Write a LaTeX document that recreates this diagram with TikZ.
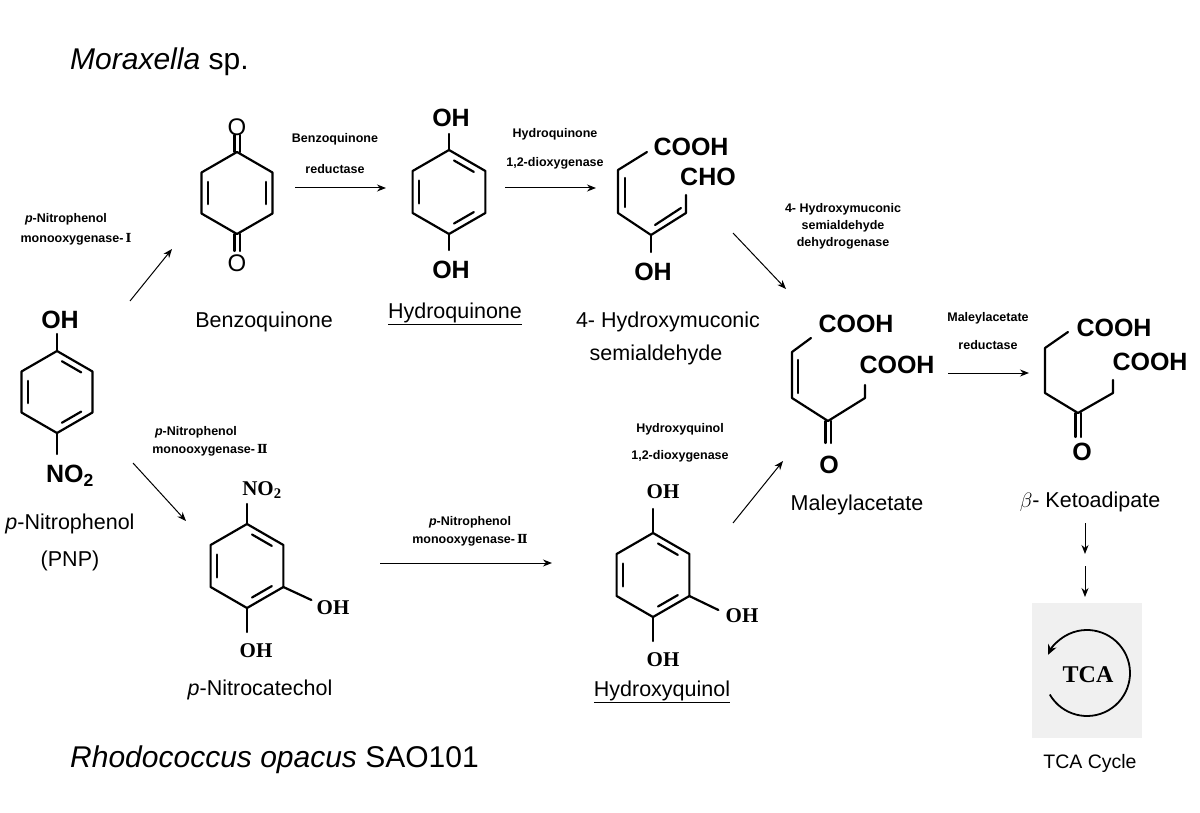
\documentclass[tikz,border=0pt]{standalone}
\usepackage{fontspec}
\setmainfont{Liberation Sans}
\newfontfamily\serifchem{Liberation Serif}
\newfontfamily\dvs{DejaVu Serif}
\usetikzlibrary{calc,arrows.meta}
\tikzset{
  bond/.style={line width=2.2pt,line join=round,line cap=round},
  rxn/.style={line width=1pt,-{Stealth[length=9pt,width=7pt]}},
  chem/.style={font=\bfseries\fontsize{25}{27}\selectfont,inner sep=0pt},
  schem/.style={font=\serifchem\bfseries\fontsize{21}{23}\selectfont,inner sep=0pt},
  lab/.style={font=\fontsize{21.5}{23}\selectfont,inner sep=0pt},
  enz/.style={font=\bfseries\fontsize{12.5}{14}\selectfont,inner sep=0pt},
  org/.style={font=\itshape\fontsize{30}{32}\selectfont,inner sep=0pt,anchor=west},
}
\newcommand\hexring[3]{%
  \draw[bond] ($(#1)+(-90:#2)$) -- ($(#1)+(-30:#2)$) -- ($(#1)+(30:#2)$) -- ($(#1)+(90:#2)$) -- ($(#1)+(150:#2)$) -- ($(#1)+(210:#2)$) -- cycle;
  \foreach \a in {#3} \draw[bond] ($(#1)+(\a+9:0.76*#2)$) -- ($(#1)+(\a+51:0.76*#2)$);}
\newcommand\dbl[2]{\draw[bond] ($(#1)+(-2.6,0)$) -- ($(#2)+(-2.6,0)$); \draw[bond] ($(#1)+(2.6,0)$) -- ($(#2)+(2.6,0)$);}
\begin{document}
\begin{tikzpicture}[x=1pt,y=-1pt]
\useasboundingbox (0,0) rectangle (1200,813);
\fill[white] (0,0) rectangle (1200,813);
% organisms
\node[org] (mor) at (70,62) {Moraxella \upshape sp.};
\node[org] (rho) at (70,760) {Rhodococcus opacus \upshape SAO101};

% PNP
\coordinate (pnp) at (57,392);
\hexring{pnp}{41}{-90,150,30}
\draw[bond] ($(pnp)+(0,-41)$) -- ($(pnp)+(0,-58)$);
\draw[bond] ($(pnp)+(0,41)$) -- ($(pnp)+(0,62)$);
\node[chem] (pnpoh) at (60,320) {OH};
\node[chem] (pnpno) at (70,476) {NO\textsubscript{2}};
\node[lab] (pnpl1) at (70,524) {\textit{p}-Nitrophenol};
\node[lab] (pnpl2) at (70,561) {(PNP)};

% Benzoquinone
\coordinate (bq) at (237,193);
\hexring{bq}{41}{-30,150}
\dbl{$(bq)+(0,-41)$}{$(bq)+(0,-58)$}
\dbl{$(bq)+(0,41)$}{$(bq)+(0,58)$}
\node[chem,font=\fontsize{24}{26}\selectfont] (bqo1) at (237,127) {O};
\node[chem,font=\fontsize{24}{26}\selectfont] (bqo2) at (237,263) {O};
\node[lab] (bql) at (264,322) {Benzoquinone};

% Hydroquinone
\coordinate (hq) at (449,192);
\hexring{hq}{42}{-90,150,30}
\draw[bond] ($(hq)+(0,-42)$) -- ($(hq)+(0,-58)$);
\draw[bond] ($(hq)+(0,42)$) -- ($(hq)+(0,58)$);
\node[chem] (hqoh1) at (451,118) {OH};
\node[chem] (hqoh2) at (451,270) {OH};
\node[lab] (hql) at (455,314) {\underline{Hydroquinone}};

% 4-hydroxymuconic semialdehyde
\coordinate (m1) at (647,152); \coordinate (m2) at (618,170); \coordinate (m3) at (618,213);
\coordinate (m4) at (651,235); \coordinate (m5) at (686,213); \coordinate (m6) at (686,195);
\draw[bond] (m1) -- (m2) -- (m3) -- (m4) -- (m5) -- (m6);
\draw[bond] (625,178) -- (625,207);
\draw[bond] (655,225) -- (681,208);
\draw[bond] (m4) -- (651,252);
\node[chem] (hmcooh) at (691,147) {COOH};
\node[chem] (hmcho) at (708,177) {CHO};
\node[chem] (hmoh) at (653,272) {OH};
\node[lab] (hml1) at (668,322) {4- Hydroxymuconic};
\node[lab] (hml2) at (656,355) {semialdehyde};

% Maleylacetate
\coordinate (a1) at (811,338); \coordinate (a2) at (792,352); \coordinate (a3) at (792,398);
\coordinate (a4) at (828,421); \coordinate (a5) at (865,398); \coordinate (a6) at (865,385);
\draw[bond] (a1) -- (a2) -- (a3) -- (a4) -- (a5) -- (a6);
\draw[bond] (798,360) -- (798,393);
\dbl{a4}{$(a4)+(0,22)$}
\node[chem] (macooh1) at (856,324) {COOH};
\node[chem] (macooh2) at (897,365) {COOH};
\node[chem] (mao) at (829,465) {O};
\node[lab] (mal) at (857,505) {Maleylacetate};

% beta-ketoadipate
\coordinate (k1) at (1068,332); \coordinate (k2) at (1045,348); \coordinate (k3) at (1045,393);
\coordinate (k4) at (1078,413); \coordinate (k5) at (1113,393); \coordinate (k6) at (1113,380);
\draw[bond] (k1) -- (k2) -- (k3) -- (k4) -- (k5) -- (k6);
\dbl{k4}{$(k4)+(0,24)$}
\node[chem] (kacooh1) at (1114,328) {COOH};
\node[chem] (kacooh2) at (1150,362) {COOH};
\node[chem] (kao) at (1082,452) {O};
\node[lab] (kal) at (1090,502) {$\beta$- Ketoadipate};

% p-nitrocatechol
\coordinate (nc) at (247,566);
\hexring{nc}{42}{-90,150,30}
\draw[bond] ($(nc)+(0,-42)$) -- ($(nc)+(0,-62)$);
\draw[bond] ($(nc)+(30:42)$) -- ++(28,13);
\draw[bond] ($(nc)+(0,42)$) -- ($(nc)+(0,66)$);
\node[schem] (ncno) at (262,490) {NO\textsubscript{2}};
\node[schem] (ncoh1) at (333,608) {OH};
\node[schem] (ncoh2) at (256,651) {OH};
\node[lab] (ncl) at (260,690) {\textit{p}-Nitrocatechol};

% hydroxyquinol
\coordinate (hx) at (653,575);
\hexring{hx}{42}{-90,150,30}
\draw[bond] ($(hx)+(0,-42)$) -- ($(hx)+(0,-66)$);
\draw[bond] ($(hx)+(30:42)$) -- ++(29,14);
\draw[bond] ($(hx)+(0,42)$) -- ($(hx)+(0,66)$);
\node[schem] (hxoh1) at (663,492) {OH};
\node[schem] (hxoh2) at (742,616) {OH};
\node[schem] (hxoh3) at (663,660) {OH};
\node[lab] (hxl) at (662,692) {\underline{Hydroxyquinol}};

% TCA
\fill[gray!12] (1032,603) rectangle (1142,738);
\coordinate (tca) at (1087,673);
\draw[line width=1.8pt,-{Stealth[length=10pt,width=9pt]}] ($(tca)+(150:43)$) arc[start angle=150,end angle=-155,radius=43];
\node[font=\serifchem\bfseries\fontsize{24}{26}\selectfont,inner sep=0pt] (tcat) at (1088,675) {TCA};
\node[font=\fontsize{19.5}{21}\selectfont,inner sep=0pt] (tcal) at (1090,763) {TCA Cycle};

% arrow endpoints
\coordinate (r1a) at (130,301); \coordinate (r1b) at (172,249);
\coordinate (r2a) at (295,188); \coordinate (r2b) at (386,188);
\coordinate (r3a) at (505,188); \coordinate (r3b) at (596,188);
\coordinate (r4a) at (733,233); \coordinate (r4b) at (786,289);
\coordinate (r5a) at (948,373); \coordinate (r5b) at (1029,373);
\coordinate (r6a) at (133,463); \coordinate (r6b) at (186,521);
\coordinate (r7a) at (380,563); \coordinate (r7b) at (552,563);
\coordinate (r8a) at (733,523); \coordinate (r8b) at (783,461);
\coordinate (r9a) at (1085,523); \coordinate (r9b) at (1085,554);
\coordinate (r10a) at (1085,566); \coordinate (r10b) at (1085,597);
\foreach \i in {1,...,10} \draw[rxn] (r\i a) -- (r\i b);

% enzyme labels
\node[enz] (e1a) at (66,219) {\textit{p}-Nitrophenol};
\node[enz] (e1b) at (76,239) {monooxygenase-\,{\dvs Ⅰ}};
\node[enz] (e2a) at (335,139) {Benzoquinone};
\node[enz] (e2b) at (335,169) {reductase};
\node[enz] (e3a) at (555,134) {Hydroquinone};
\node[enz] (e3b) at (555,163) {1,2-dioxygenase};
\node[enz] (e4a) at (843,209) {4- Hydroxymuconic};
\node[enz] (e4b) at (843,226) {semialdehyde};
\node[enz] (e4c) at (843,243) {dehydrogenase};
\node[enz] (e5a) at (988,318) {Maleylacetate};
\node[enz] (e5b) at (988,345) {reductase};
\node[enz] (e6a) at (196,432) {\textit{p}-Nitrophenol};
\node[enz] (e6b) at (210,450) {monooxygenase-\,{\dvs Ⅱ}};
\node[enz] (e7a) at (470,522) {\textit{p}-Nitrophenol};
\node[enz] (e7b) at (470,540) {monooxygenase-\,{\dvs Ⅱ}};
\node[enz] (e8a) at (680,429) {Hydroxyquinol};
\node[enz] (e8b) at (680,456) {1,2-dioxygenase};
\end{tikzpicture}
\end{document}
